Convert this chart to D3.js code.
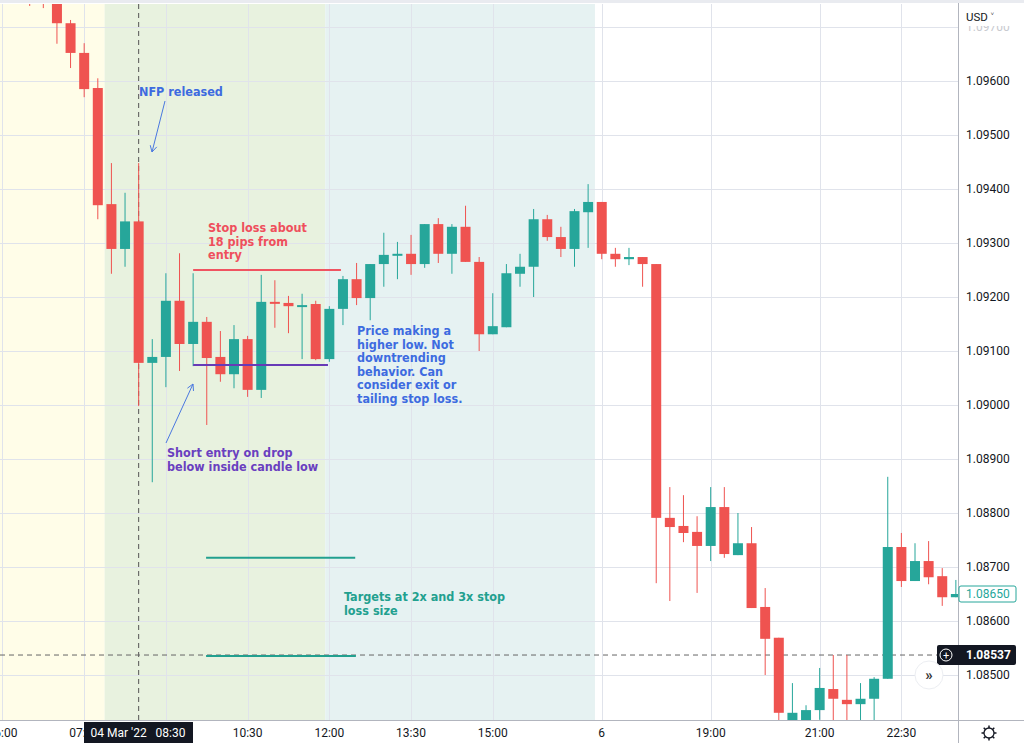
<!DOCTYPE html>
<html>
<head>
<meta charset="utf-8">
<script src="https://cdn.jsdelivr.net/npm/d3@7"></script>
<style>
  body { margin: 0; background: #fff; }
  svg { display: block; font-family: Roboto, "Noto Sans", sans-serif; }
</style>
</head>
<body>
<svg id="chart" width="1024" height="743"></svg>
<script>
// candles, 15 min each, index 0 is the first one
const firstIndex = 0
const opens = [1.0985, 1.0985, 1.09759, 1.09707, 1.09652, 1.09587, 1.09372, 1.09289, 1.0934, 1.09078,
  1.09089, 1.09193, 1.09113, 1.09154, 1.09089, 1.09057, 1.09122, 1.09028, 1.09191, 1.09189,
  1.09183, 1.09187, 1.09085, 1.09178, 1.09233, 1.09198, 1.09261, 1.09278, 1.0928, 1.09261,
  1.09335, 1.0928, 1.0933, 1.09265, 1.09131, 1.09144, 1.09243, 1.09256, 1.09344, 1.09311,
  1.09289, 1.09357, 1.09376, 1.0928, 1.0927, 1.09274, 1.09261, 1.08791, 1.08776, 1.08765,
  1.08739, 1.08811, 1.08722, 1.08744, 1.08626, 1.08569, 1.0840, 1.08413, 1.08435, 1.08474,
  1.08454, 1.08446, 1.08456, 1.08493, 1.08737, 1.08674, 1.08711, 1.08683, 1.08644]
const closes = [1.0980, 1.0980, 1.09707, 1.09652, 1.09585, 1.0937, 1.09289, 1.0934, 1.09078, 1.09089,
  1.09193, 1.09113, 1.09154, 1.09087, 1.09057, 1.09122, 1.09028, 1.09191, 1.09189, 1.09183,
  1.09185, 1.09085, 1.09178, 1.09233, 1.09198, 1.09261, 1.09278, 1.0928, 1.09261, 1.09335,
  1.0928, 1.0933, 1.09265, 1.09131, 1.09146, 1.09244, 1.09256, 1.09344, 1.09311, 1.09289,
  1.09359, 1.09376, 1.0928, 1.0927, 1.09274, 1.09261, 1.08791, 1.08774, 1.08763, 1.08739,
  1.08811, 1.08724, 1.08744, 1.08624, 1.08567, 1.0843, 1.0843, 1.08435, 1.08476, 1.08456,
  1.08446, 1.08456, 1.08493, 1.08737, 1.08674, 1.08711, 1.08681, 1.08644, 1.0865]
const highs = [1.0986, 1.0986, 1.0977, 1.09713, 1.0967, 1.09605, 1.09448, 1.09393, 1.09448, 1.09122,
  1.09244, 1.09281, 1.09244, 1.09163, 1.09137, 1.09148, 1.09128, 1.09241, 1.09231, 1.09202,
  1.09206, 1.09193, 1.09183, 1.09239, 1.09263, 1.09261, 1.09319, 1.09302, 1.09315, 1.09335,
  1.09346, 1.09335, 1.09369, 1.09274, 1.09207, 1.09261, 1.0928, 1.09363, 1.09352, 1.0933,
  1.09363, 1.09409, 1.09376, 1.09291, 1.09291, 1.09274, 1.09261, 1.08848, 1.08833, 1.08794,
  1.08848, 1.08848, 1.088, 1.08774, 1.08661, 1.08569, 1.08485, 1.08444, 1.08513, 1.08537,
  1.08537, 1.08485, 1.08496, 1.08867, 1.08763, 1.08744, 1.08748, 1.08698, 1.08676]
const lows = [1.09739, 1.09735, 1.09669, 1.09624, 1.0957, 1.09344, 1.09243, 1.09256, 1.08998, 1.08857,
  1.09033, 1.09063, 1.09072, 1.08963, 1.09043, 1.09031, 1.09015, 1.09013, 1.09143, 1.09133,
  1.09085, 1.09083, 1.0908, 1.09148, 1.09185, 1.09157, 1.09219, 1.09233, 1.09241, 1.09254,
  1.09263, 1.09243, 1.09265, 1.091, 1.09131, 1.09144, 1.09219, 1.092, 1.09304, 1.09274,
  1.09256, 1.09291, 1.0927, 1.09256, 1.09259, 1.09219, 1.0867, 1.08637, 1.08746, 1.08652,
  1.08711, 1.08717, 1.08722, 1.08624, 1.085, 1.0840, 1.0838, 1.0841, 1.08417, 1.0841,
  1.0841, 1.0841, 1.0841, 1.08493, 1.08663, 1.08674, 1.08668, 1.08628, 1.08644]

const timeTicks = [-2, 4, 10, 16, 22, 28, 34, 42, 50, 58, 64]
const timeLabels = ["06:00", "07:30", "09:00", "10:30", "12:00", "13:30", "15:00", "6", "19:00", "21:00", "22:30"]
const priceTicks = [1.097, 1.096, 1.095, 1.094, 1.093, 1.092, 1.091, 1.090, 1.089, 1.088, 1.087, 1.086, 1.085]

// session shading: start index, end index
const sessionStarts = [-3, 5.5, 21.7]
const sessionEnds = [5.5, 21.7, 41.5]
const sessionColors = ["#fffde8", "#e8f2df", "#e6f2f2"]

const crossIndex = 8
const lastPrice = 1.0865
const markPrice = 1.08537

// annotation lines: [index from, index to, price]
const stopLine = [12, 22.85, 1.0925]
const entryLine = [12, 21.9, 1.09074]
const target1 = [12.95, 23.9, 1.08717]
const target2 = [12.95, 23.95, 1.08535]

const svg = d3.select("#chart")
const plotRight = 958, plotTop = 4, plotBottom = 720

const x = d3.scaleLinear().domain([0, 70]).range([29.7, 29.7 + 70 * 13.62])
const y = d3.scaleLinear().domain([1.09, 1.085]).range([405, 675])

svg.append("defs").append("clipPath").attr("id", "plot")
  .append("rect").attr("x", 0).attr("y", plotTop).attr("width", plotRight).attr("height", plotBottom - plotTop)

const plot = svg.append("g").attr("clip-path", "url(#plot)")

sessionStarts.forEach((s, i) => {
  plot.append("rect")
    .attr("x", x(s)).attr("y", plotTop)
    .attr("width", x(sessionEnds[i]) - x(s)).attr("height", plotBottom - plotTop)
    .attr("fill", sessionColors[i])
})

// grid
plot.selectAll(".hgrid").data(priceTicks).join("line")
  .attr("x1", 0).attr("x2", plotRight)
  .attr("y1", d => Math.round(y(d)) + 0.5).attr("y2", d => Math.round(y(d)) + 0.5)
  .attr("stroke", "#e0e3eb")
plot.selectAll(".vgrid").data(timeTicks).join("line")
  .attr("y1", plotTop).attr("y2", plotBottom)
  .attr("x1", d => Math.round(x(d)) + 0.5).attr("x2", d => Math.round(x(d)) + 0.5)
  .attr("stroke", "#e0e3eb")

// crosshair + mark price line
plot.append("line").attr("x1", x(crossIndex)).attr("x2", x(crossIndex))
  .attr("y1", plotTop).attr("y2", plotBottom)
  .attr("stroke", "#555").attr("stroke-dasharray", "5,4")
plot.append("line").attr("x1", 0).attr("x2", plotRight)
  .attr("y1", y(markPrice)).attr("y2", y(markPrice))
  .attr("stroke", "#666").attr("stroke-dasharray", "5,4")

// candles
const candles = opens.map((o, i) => ({ i: i + firstIndex, o, c: closes[i], h: highs[i], l: lows[i] }))
const col = d => d.c >= d.o ? "#26a69a" : "#ef5350"
const g = plot.selectAll(".candle").data(candles).join("g")
g.append("line")
  .attr("x1", d => x(d.i)).attr("x2", d => x(d.i))
  .attr("y1", d => y(d.h)).attr("y2", d => y(d.l))
  .attr("stroke", col).attr("stroke-width", 1)
g.append("rect")
  .attr("x", d => x(d.i) - 5).attr("width", 10)
  .attr("y", d => y(Math.max(d.o, d.c)))
  .attr("height", d => Math.max(2, Math.abs(y(d.o) - y(d.c))))
  .attr("fill", col)

// annotations
function hline(a, color) {
  plot.append("line").attr("x1", x(a[0])).attr("x2", x(a[1]))
    .attr("y1", y(a[2])).attr("y2", y(a[2]))
    .attr("stroke", color).attr("stroke-width", 2)
}
hline(stopLine, "#f05461")
hline(entryLine, "#673ab7")
hline(target1, "#22a08f")
hline(target2, "#22a08f")

function note(lines, px, py, color) {
  const t = svg.append("text").attr("x", px).attr("y", py)
    .attr("fill", color).attr("font-family", "'DejaVu Sans Condensed', 'DejaVu Sans', sans-serif")
    .attr("font-size", 12.5).attr("font-weight", "bold")
  lines.forEach((s, k) => t.append("tspan").attr("x", px).attr("dy", k ? 13.5 : 0).text(s))
}
note(["NFP released"], 139, 96, "#3d6be0")
note(["Stop loss about", "18 pips from", "entry"], 208, 232, "#ef4f5c")
note(["Price making a", "higher low. Not", "downtrending", "behavior. Can", "consider exit or", "tailing stop loss."], 357, 335, "#3d6be0")
note(["Short entry on drop", "below inside candle low"], 167, 457, "#6a3fc0")
note(["Targets at 2x and 3x stop", "loss size"], 344, 601, "#22a08f")

function arrow(x1, y1, x2, y2, color) {
  svg.append("line").attr("x1", x1).attr("y1", y1).attr("x2", x2).attr("y2", y2)
    .attr("stroke", color).attr("stroke-width", 1)
  const a = Math.atan2(y2 - y1, x2 - x1)
  const pts = [[x2 - 7 * Math.cos(a - 0.5), y2 - 7 * Math.sin(a - 0.5)], [x2, y2],
    [x2 - 7 * Math.cos(a + 0.5), y2 - 7 * Math.sin(a + 0.5)]]
  svg.append("polyline").attr("points", pts.map(p => p.join(",")).join(" "))
    .attr("fill", "none").attr("stroke", color).attr("stroke-width", 1)
}
arrow(165, 101, 152, 152, "#4a78e0")
arrow(166, 443, 193, 384, "#4a78e0")

// price axis
svg.append("rect").attr("x", plotRight).attr("y", 0).attr("width", 1024 - plotRight).attr("height", 743).attr("fill", "#fff")
svg.append("line").attr("x1", plotRight + 0.5).attr("x2", plotRight + 0.5).attr("y1", 0).attr("y2", 743).attr("stroke", "#b2b5be")
svg.append("line").attr("x1", 0).attr("x2", 1024).attr("y1", plotBottom + 0.5).attr("y2", plotBottom + 0.5).attr("stroke", "#b2b5be")
svg.append("rect").attr("x", 0).attr("y", 0).attr("width", 1024).attr("height", 3).attr("fill", "#e9ebf0")

svg.selectAll(".ptick").data(priceTicks).join("text")
  .attr("x", 966).attr("y", d => y(d) + 4)
  .attr("font-size", 12).attr("fill", d => d === 1.097 ? "#c8cad0" : "#131722")
  .text(d => d.toFixed(5))
svg.append("rect").attr("x", plotRight + 1).attr("y", 4).attr("width", 60).attr("height", 22).attr("fill", "#fff")
svg.append("text").attr("x", 966).attr("y", 21).attr("font-size", 11.5).attr("fill", "#131722").text("USD ˅")

// last price tag
svg.append("rect").attr("x", 959).attr("y", y(lastPrice) - 8).attr("width", 57).attr("height", 16)
  .attr("fill", "#fff").attr("stroke", "#26a69a").attr("rx", 2)
svg.append("text").attr("x", 966).attr("y", y(lastPrice) + 4).attr("font-size", 12).attr("fill", "#26a69a").text(lastPrice.toFixed(5))
svg.append("rect").attr("x", 937).attr("y", y(markPrice) - 10).attr("width", 79).attr("height", 20)
  .attr("fill", "#131722").attr("rx", 2)
svg.append("circle").attr("cx", 946).attr("cy", y(markPrice)).attr("r", 6).attr("fill", "none").attr("stroke", "#fff")
svg.append("text").attr("x", 946).attr("y", y(markPrice) + 4).attr("text-anchor", "middle").attr("font-size", 11).attr("fill", "#fff").text("+")
svg.append("text").attr("x", 966).attr("y", y(markPrice) + 4).attr("font-size", 12).attr("font-weight", "bold").attr("fill", "#fff").text(markPrice.toFixed(5))

// scroll button
svg.append("circle").attr("cx", 929).attr("cy", 675).attr("r", 14).attr("fill", "#fff").attr("stroke", "#eceef2")
svg.append("text").attr("x", 929).attr("y", 680).attr("text-anchor", "middle").attr("font-size", 15).attr("font-weight", "bold").attr("fill", "#333").text("»")

// time axis
svg.selectAll(".ttick").data(timeTicks).join("text")
  .attr("x", d => x(d)).attr("y", 737).attr("text-anchor", "middle")
  .attr("font-size", 12).attr("fill", "#131722")
  .text((d, i) => timeLabels[i])
svg.append("rect").attr("x", 84).attr("y", 722).attr("width", 109).attr("height", 21).attr("fill", "#131722")
svg.append("text").attr("x", 138).attr("y", 737).attr("text-anchor", "middle").attr("font-size", 12)
  .attr("fill", "#fff").attr("xml:space", "preserve").text("04 Mar '22   08:30")

// gear
const gear = svg.append("g").attr("transform", "translate(989,733)")
gear.append("circle").attr("r", 5).attr("fill", "none").attr("stroke", "#131722").attr("stroke-width", 1.3)
d3.range(8).forEach(k => {
  const a = k * Math.PI / 4
  gear.append("line").attr("x1", 5 * Math.cos(a)).attr("y1", 5 * Math.sin(a))
    .attr("x2", 7.5 * Math.cos(a)).attr("y2", 7.5 * Math.sin(a)).attr("stroke", "#131722").attr("stroke-width", 1.5)
})
</script>
</body>
</html>
